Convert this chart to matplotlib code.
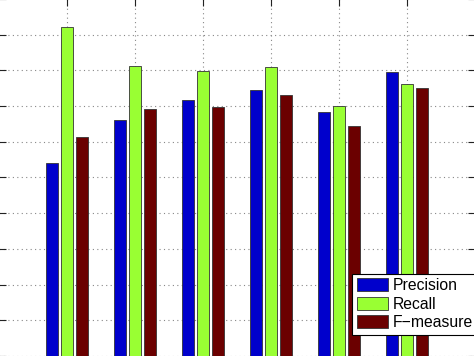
import matplotlib
matplotlib.use("Agg")
import matplotlib.pyplot as plt
import numpy as np

groups = [1, 2, 3, 4, 5, 6]
precision = [0.541, 0.662, 0.716, 0.744, 0.682, 0.794]
recall = [0.921, 0.811, 0.798, 0.809, 0.701, 0.761]
fmeasure = [0.612, 0.693, 0.697, 0.732, 0.643, 0.750]
labels = ["Precision", "Recall", "F\u2212measure"]
colors = ["#0000cc", "#99ff33", "#6b0000"]

plt.rcParams['font.family'] = ['Liberation Sans', 'DejaVu Sans']

fig = plt.figure(figsize=(4.74, 3.56), dpi=100)
ax = fig.add_axes([-0.002, 0.0, 1.004, 1.003])

x = np.array(groups, dtype=float)
offs = [-0.222, 0.0, 0.222]
for vals, off, c, lab in zip([precision, recall, fmeasure], offs, colors, labels):
    ax.bar(x + off, vals, width=0.185, color=c, edgecolor="#333333",
           linewidth=0.6, label=lab, zorder=3)

ax.set_xlim(0, 7)
ax.set_ylim(0, 1)
ax.set_xticks(groups)
ax.set_yticks(np.arange(0, 1.01, 0.1))
ax.set_xticklabels([])
ax.set_yticklabels([])
ax.tick_params(direction='in', length=5, width=0.8, color='#222222',
               top=True, right=True, bottom=True, left=True)
for s in ax.spines.values():
    s.set_visible(False)
ax.grid(True, linestyle=(0, (1, 3)), color='#888888', linewidth=0.8, zorder=0)

leg = ax.legend(loc='lower right', bbox_to_anchor=(1.006, 0.059),
                borderaxespad=0, fontsize=11.3, frameon=True, fancybox=False,
                edgecolor='black', framealpha=1, handlelength=2.0,
                handleheight=0.9, handletextpad=0.28, labelspacing=0.22,
                borderpad=0.3)
leg.get_frame().set_linewidth(0.8)
leg.set_zorder(5)

fig.savefig("out.png", dpi=100)
